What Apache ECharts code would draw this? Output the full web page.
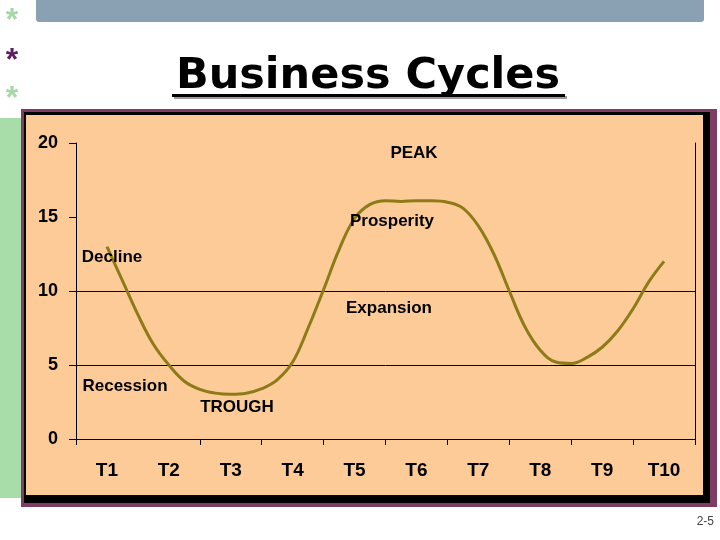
<!DOCTYPE html>
<html>
<head>
<meta charset="utf-8">
<script src="https://cdn.jsdelivr.net/npm/echarts@6/dist/echarts.min.js"></script>
<style>
  html, body { margin: 0; padding: 0; background: #ffffff; }
  #chart { width: 720px; height: 540px; }
</style>
</head>
<body>
<div id="chart"></div>
<script>
// ---- data ----
const categories = ['T1', 'T2', 'T3', 'T4', 'T5', 'T6', 'T7', 'T8', 'T9', 'T10'];
const timePoints = [
  1, 1.25, 1.5, 1.75, 2, 2.25, 2.5, 2.75, 3, 3.25, 3.5, 3.75,
  4, 4.25, 4.5, 4.75, 5, 5.25, 5.5, 5.75, 6, 6.25, 6.5, 6.75,
  7, 7.25, 7.5, 7.75, 8, 8.25, 8.5, 8.75, 9, 9.25, 9.5, 9.75, 10
];
const activityLevel = [
  13.0, 10.7, 8.4, 6.4, 5.0, 3.9, 3.35, 3.1, 3.02, 3.09, 3.4, 4.0,
  5.2, 7.5, 10.1, 12.8, 14.9, 15.85, 16.1, 16.05, 16.1, 16.1, 16.0, 15.6,
  14.4, 12.5, 10.0, 7.6, 6.0, 5.2, 5.1, 5.5, 6.2, 7.3, 8.8, 10.6, 12.0
];
const yTickValues = [0, 5, 10, 15, 20];
const guideLevels = [5, 10];
const phaseLabels = ['PEAK', 'Prosperity', 'Decline', 'Expansion', 'Recession', 'TROUGH'];
const titleText = 'Business Cycles';
const pageNumber = '2-5';

const chart = echarts.init(document.getElementById('chart'), null, { renderer: 'canvas' });

const LABEL_FONT = '"Liberation Sans", Arial, sans-serif';
const phasePos = [[414, 153], [392, 221], [112, 257], [389, 308], [125, 386], [237, 407]];

const graphics = [
  { type: 'rect', z: -5, shape: { x: 36, y: -6, width: 668, height: 28, r: 3 }, style: { fill: '#8aa0b3' } },
  { type: 'rect', z: -5, shape: { x: 0, y: 118, width: 22, height: 380 }, style: { fill: '#a8dca8' } },
  { type: 'rect', z: -4, shape: { x: 21, y: 109, width: 696, height: 398 }, style: { fill: '#7e3c63' } },
  { type: 'rect', z: -3, shape: { x: 24, y: 112, width: 686, height: 391 }, style: { fill: '#000000' } },
  { type: 'rect', z: -2, shape: { x: 26, y: 115, width: 677, height: 380 }, style: { fill: '#fdcb98' } },
  { type: 'text', z: 10, style: { x: 12, y: 21, text: '*', fill: '#a6d8a6', font: 'bold 32px ' + LABEL_FONT, align: 'center', verticalAlign: 'middle' } },
  { type: 'text', z: 10, style: { x: 12, y: 61, text: '*', fill: '#5a1d5e', font: 'bold 32px ' + LABEL_FONT, align: 'center', verticalAlign: 'middle' } },
  { type: 'text', z: 10, style: { x: 12, y: 99, text: '*', fill: '#a6d8a6', font: 'bold 32px ' + LABEL_FONT, align: 'center', verticalAlign: 'middle' } },
  { type: 'rect', z: 9, shape: { x: 174, y: 96, width: 393, height: 3 }, style: { fill: '#9a9a9a' } },
  { type: 'rect', z: 10, shape: { x: 172, y: 94, width: 393, height: 3 }, style: { fill: '#000000' } },
  { type: 'text', z: 10, style: {
      x: 368, y: 77, text: titleText, align: 'center', verticalAlign: 'middle',
      font: 'bold 43px "DejaVu Sans", sans-serif', fill: '#000000',
      textShadowColor: '#9a9a9a', textShadowOffsetX: 2, textShadowOffsetY: 2, textShadowBlur: 0
  } },
  { type: 'text', z: 10, style: { x: 714, y: 522, text: pageNumber, align: 'right', verticalAlign: 'middle', font: '12px ' + LABEL_FONT, fill: '#444444' } }
];

phaseLabels.forEach((t, i) => {
  graphics.push({ type: 'text', z: 20, style: {
    x: phasePos[i][0], y: phasePos[i][1], text: t, align: 'center', verticalAlign: 'middle',
    font: 'bold 17px ' + LABEL_FONT, fill: '#000000'
  } });
});

const option = {
  backgroundColor: '#ffffff',
  animation: false,
  graphic: graphics,
  grid: { left: 76, right: 25, top: 143, bottom: 101, containLabel: false, outerBoundsMode: 'none' },
  xAxis: [
    {
      type: 'category',
      data: categories,
      boundaryGap: true,
      axisLine: { show: true, lineStyle: { color: '#000', width: 1 } },
      axisTick: { show: true, length: 6, lineStyle: { color: '#000', width: 1 }, interval: (idx) => idx !== 1 },
      axisLabel: { color: '#000', fontSize: 19, fontWeight: 'bold', fontFamily: '"Liberation Sans Narrow", "Liberation Sans", Arial, sans-serif', margin: 22 },
      splitLine: { show: false }
    },
    { type: 'value', min: 0.5, max: 10.5, show: false }
  ],
  yAxis: [
    {
      type: 'value', min: 0, max: 20, interval: 5,
      axisLine: { show: true, lineStyle: { color: '#000', width: 1 } },
      axisTick: { show: true, length: 7, lineStyle: { color: '#000', width: 1 } },
      axisLabel: { color: '#000', fontSize: 18, fontWeight: 'bold', fontFamily: LABEL_FONT, margin: 18,
        customValues: yTickValues },
      splitLine: { show: false }
    },
    {
      type: 'value', min: 0, max: 20, interval: 5, position: 'right',
      axisLine: { show: true, lineStyle: { color: '#000', width: 1 } },
      axisTick: { show: false }, axisLabel: { show: false }, splitLine: { show: false }
    }
  ],
  series: [
    {
      type: 'line',
      xAxisIndex: 1,
      yAxisIndex: 0,
      data: timePoints.map((t, i) => [t, activityLevel[i]]),
      smooth: 0.4,
      showSymbol: false,
      symbol: 'none',
      lineStyle: { color: '#8c7b16', width: 3 },
      z: 5,
      markLine: {
        silent: true,
        symbol: 'none',
        label: { show: false },
        lineStyle: { color: '#000', width: 1, type: 'solid' },
        data: guideLevels.map(v => ({ yAxis: v }))
      }
    }
  ]
};

chart.setOption(option);
</script>
</body>
</html>
